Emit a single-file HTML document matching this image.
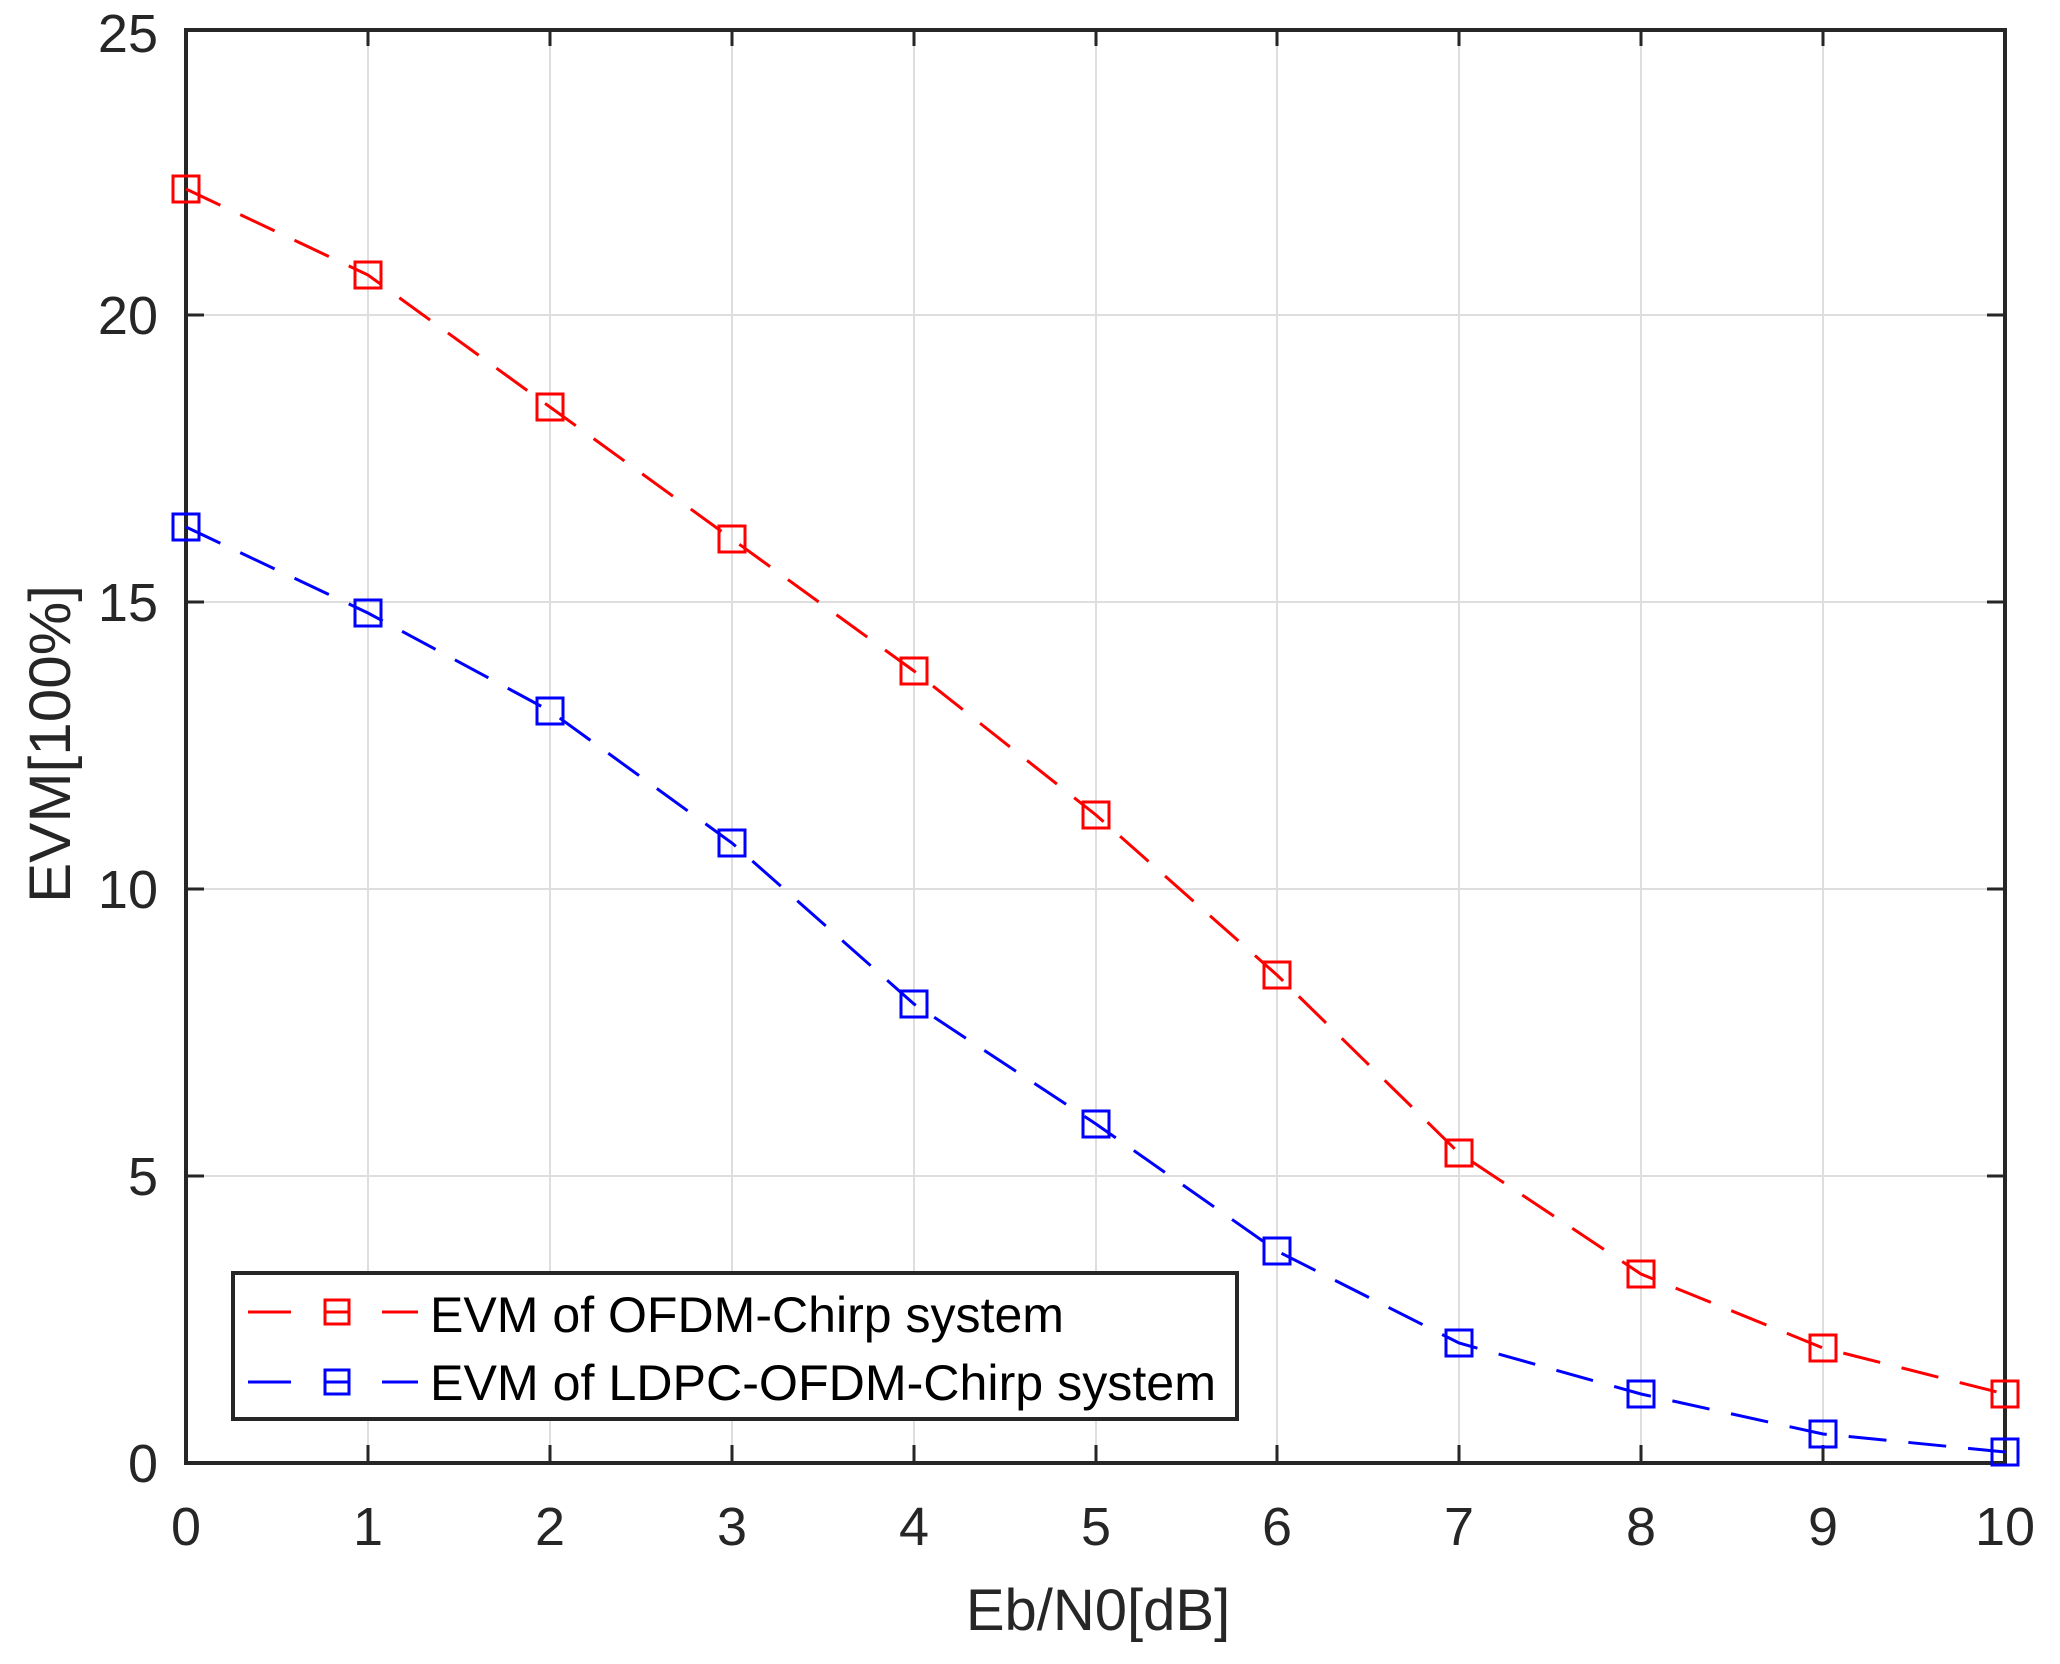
<!DOCTYPE html>
<html><head><meta charset="utf-8"><style>body{margin:0;background:#fff}svg{display:block}</style></head>
<body>
<svg width="2060" height="1664" viewBox="0 0 2060 1664" xmlns="http://www.w3.org/2000/svg" font-family="Liberation Sans, Arial, sans-serif">
<rect width="2060" height="1664" fill="#fff"/>
<g stroke="#dedede" stroke-width="2">
<line x1="368" y1="28" x2="368" y2="1463"/><line x1="550" y1="28" x2="550" y2="1463"/><line x1="732" y1="28" x2="732" y2="1463"/><line x1="914" y1="28" x2="914" y2="1463"/><line x1="1096" y1="28" x2="1096" y2="1463"/><line x1="1277" y1="28" x2="1277" y2="1463"/><line x1="1459" y1="28" x2="1459" y2="1463"/><line x1="1641" y1="28" x2="1641" y2="1463"/><line x1="1823" y1="28" x2="1823" y2="1463"/>
<line x1="186" y1="315" x2="2005" y2="315"/><line x1="186" y1="602" x2="2005" y2="602"/><line x1="186" y1="889" x2="2005" y2="889"/><line x1="186" y1="1176" x2="2005" y2="1176"/>
</g>
<g stroke="#262626" stroke-width="3">
<path d="M368 28v18M550 28v18M732 28v18M914 28v18M1096 28v18M1277 28v18M1459 28v18M1641 28v18M1823 28v18"/>
<path d="M368 1463v-18M550 1463v-18M732 1463v-18M914 1463v-18M1096 1463v-18M1277 1463v-18M1459 1463v-18M1641 1463v-18M1823 1463v-18"/>
<path d="M186 315h18M186 602h18M186 889h18M186 1176h18M2005 315h-18M2005 602h-18M2005 889h-18M2005 1176h-18"/>
</g>
<rect x="186" y="30" width="1819" height="1433" fill="none" stroke="#262626" stroke-width="4"/>
<polyline fill="none" stroke="#ff0000" stroke-width="3" stroke-dasharray="38,22" points="186,189 368,275 550,407 732,539 914,671 1096,815 1277,975 1459,1153 1641,1274 1823,1348 2005,1394"/>
<polyline fill="none" stroke="#0000ff" stroke-width="3" stroke-dasharray="38,22" points="186,527 368,613 550,711 732,843 914,1004 1096,1124 1277,1251 1459,1343 1641,1394 1823,1434 2005,1452"/>
<g fill="none" stroke="#ff0000" stroke-width="3">
<rect x="173" y="176" width="26" height="26"/><rect x="355" y="262" width="26" height="26"/><rect x="537" y="394" width="26" height="26"/><rect x="719" y="526" width="26" height="26"/><rect x="901" y="658" width="26" height="26"/><rect x="1083" y="802" width="26" height="26"/><rect x="1264" y="962" width="26" height="26"/><rect x="1446" y="1140" width="26" height="26"/><rect x="1628" y="1261" width="26" height="26"/><rect x="1810" y="1335" width="26" height="26"/><rect x="1992" y="1381" width="26" height="26"/>
</g>
<g fill="none" stroke="#0000ff" stroke-width="3">
<rect x="173" y="514" width="26" height="26"/><rect x="355" y="600" width="26" height="26"/><rect x="537" y="698" width="26" height="26"/><rect x="719" y="830" width="26" height="26"/><rect x="901" y="991" width="26" height="26"/><rect x="1083" y="1111" width="26" height="26"/><rect x="1264" y="1238" width="26" height="26"/><rect x="1446" y="1330" width="26" height="26"/><rect x="1628" y="1381" width="26" height="26"/><rect x="1810" y="1421" width="26" height="26"/><rect x="1992" y="1439" width="26" height="26"/>
</g>
<g font-size="54" fill="#262626" text-anchor="end">
<text x="158" y="52">25</text><text x="158" y="334">20</text><text x="158" y="621">15</text><text x="158" y="908">10</text><text x="158" y="1195">5</text><text x="158" y="1482">0</text>
</g>
<g font-size="54" fill="#262626" text-anchor="middle">
<text x="186" y="1545">0</text><text x="368" y="1545">1</text><text x="550" y="1545">2</text><text x="732" y="1545">3</text><text x="914" y="1545">4</text><text x="1096" y="1545">5</text><text x="1277" y="1545">6</text><text x="1459" y="1545">7</text><text x="1641" y="1545">8</text><text x="1823" y="1545">9</text><text x="2005" y="1545">10</text>
</g>
<text x="1098" y="1630" font-size="58" fill="#262626" text-anchor="middle">Eb/N0[dB]</text>
<text transform="translate(70,744) rotate(-90)" font-size="58" fill="#262626" text-anchor="middle" textLength="318" lengthAdjust="spacingAndGlyphs">EVM[100%]</text>
<rect x="233" y="1273" width="1004" height="146" fill="#fff" stroke="#262626" stroke-width="4"/>
<g stroke-width="3" fill="none">
<path d="M248 1312h43M382 1312h36" stroke="#ff0000"/><rect x="325" y="1300" width="24" height="24" stroke="#ff0000"/><path d="M325 1312h24" stroke="#ff0000"/>
<path d="M248 1382h43M382 1382h36" stroke="#0000ff"/><rect x="325" y="1370" width="24" height="24" stroke="#0000ff"/><path d="M325 1382h24" stroke="#0000ff"/>
</g>
<g font-size="50" fill="#000">
<text x="430" y="1332" textLength="634" lengthAdjust="spacingAndGlyphs">EVM of OFDM-Chirp system</text>
<text x="430" y="1400" textLength="786" lengthAdjust="spacingAndGlyphs">EVM of LDPC-OFDM-Chirp system</text>
</g>
</svg>
</body></html>
